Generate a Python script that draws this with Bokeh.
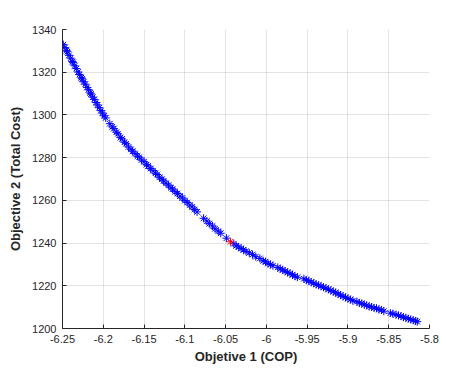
from bokeh.plotting import figure
from bokeh.models import Range1d, FixedTicker, CustomJSTickFormatter
from bokeh.embed import file_html
from bokeh.resources import INLINE

# Pareto front points (Objective 1 = COP, Objective 2 = Total Cost)
cop = [
    -6.249, -6.247, -6.245, -6.244, -6.242, -6.240, -6.238, -6.237, -6.235, -6.233,
    -6.231, -6.229, -6.227, -6.226, -6.224, -6.222, -6.220, -6.218, -6.216, -6.215,
    -6.213, -6.211, -6.209, -6.207, -6.205, -6.203, -6.201, -6.199, -6.197,
    -6.192, -6.189, -6.187, -6.184, -6.182, -6.179, -6.177, -6.174, -6.172, -6.169,
    -6.166, -6.164, -6.161, -6.158, -6.156, -6.153, -6.150, -6.147, -6.145, -6.142,
    -6.139, -6.136, -6.134, -6.131, -6.128, -6.126, -6.123, -6.120, -6.117, -6.115,
    -6.112, -6.109, -6.106, -6.103, -6.100, -6.097, -6.094, -6.091, -6.088, -6.085,
    -6.077, -6.073, -6.070, -6.066, -6.063, -6.059, -6.056, -6.049,
    -6.040, -6.037, -6.034, -6.031, -6.028, -6.025, -6.021, -6.017, -6.013, -6.008,
    -6.004, -6.001, -5.998, -5.995, -5.992,
    -5.986, -5.983, -5.980, -5.977, -5.974, -5.971, -5.968, -5.965, -5.962,
    -5.954, -5.951, -5.948, -5.945, -5.942, -5.939, -5.936, -5.933, -5.930, -5.927,
    -5.924, -5.921, -5.918, -5.915, -5.912, -5.909, -5.906, -5.903, -5.900, -5.897,
    -5.894,
    -5.889, -5.886, -5.883, -5.880, -5.877, -5.874, -5.871, -5.868, -5.865, -5.862,
    -5.859, -5.856,
    -5.848, -5.845, -5.841, -5.838, -5.835, -5.832, -5.829, -5.826, -5.823, -5.820,
    -5.817, -5.815,
]
cost = [
    1332.9, 1331.6, 1330.1, 1329.6, 1327.9, 1326.6, 1325.0, 1324.6, 1323.0, 1321.7,
    1320.1, 1318.9, 1317.4, 1316.9, 1315.5, 1314.4, 1312.9, 1311.8, 1310.3, 1309.8,
    1308.3, 1307.3, 1305.8, 1304.7, 1303.4, 1302.0, 1300.9, 1299.6, 1298.6,
    1295.9, 1294.4, 1293.6, 1291.9, 1291.2, 1289.4, 1288.8, 1287.2, 1286.5, 1285.0,
    1283.9, 1283.0, 1281.9, 1280.7, 1280.2, 1278.9, 1278.1, 1276.7, 1276.1, 1274.9,
    1273.9, 1272.7, 1272.1, 1270.8, 1269.9, 1269.1, 1268.0, 1267.1, 1265.9, 1265.3,
    1264.1, 1263.2, 1262.0, 1261.1, 1259.9, 1259.0, 1257.8, 1256.9, 1255.7, 1254.6,
    1251.6, 1250.3, 1249.1, 1248.0, 1246.7, 1245.6, 1244.6, 1242.3,
    1239.7, 1238.7, 1238.2, 1237.4, 1236.9, 1236.1, 1235.4, 1234.6, 1233.6, 1232.8,
    1231.7, 1231.3, 1230.4, 1230.0, 1229.4,
    1228.6, 1227.9, 1227.5, 1226.8, 1226.3, 1225.7, 1225.2, 1224.5, 1224.0,
    1223.3, 1222.6, 1222.4, 1221.6, 1221.3, 1220.6, 1220.3, 1219.8, 1219.3, 1218.9,
    1218.3, 1217.9, 1217.2, 1216.9, 1216.1, 1215.7, 1215.0, 1214.6, 1214.0, 1213.6,
    1213.0,
    1212.6, 1211.9, 1211.8, 1211.1, 1210.9, 1210.3, 1210.1, 1209.6, 1209.5, 1208.9,
    1208.7, 1208.1,
    1207.2, 1206.9, 1206.5, 1206.1, 1205.8, 1205.3, 1205.0, 1204.6, 1204.2, 1203.9,
    1203.5, 1203.2,
]
# Selected (highlighted) solution
sel_cop = [-6.044]
sel_cost = [1240.6]

x_ticks = [-6.25, -6.2, -6.15, -6.1, -6.05, -6.0, -5.95, -5.9, -5.85, -5.8]
y_ticks = [1200, 1220, 1240, 1260, 1280, 1300, 1320, 1340]

FONT = "Liberation Sans"
DARK = "#262626"

p = figure(width=466, height=366, output_backend="svg", toolbar_location=None,
           x_range=Range1d(-6.25, -5.8), y_range=Range1d(1200, 1340),
           min_border_left=62, min_border_right=37, min_border_top=29,
           min_border_bottom=38)
p.outline_line_color = None
p.background_fill_color = "white"

p.scatter(cop, cost, marker="asterisk", size=8, line_color="#0000ff", line_width=1.0)
p.scatter(sel_cop, sel_cost, marker="asterisk", size=8, line_color="#ff0000", line_width=1.0)

p.xaxis.ticker = FixedTicker(ticks=x_ticks)
p.yaxis.ticker = FixedTicker(ticks=y_ticks)
p.xaxis.formatter = CustomJSTickFormatter(code="return String(Math.round(tick*100)/100);")

for ax in (p.xaxis[0], p.yaxis[0]):
    ax.major_tick_in = 4
    ax.major_tick_out = 0
    ax.minor_tick_in = 0
    ax.minor_tick_out = 0
    ax.axis_line_color = DARK
    ax.major_tick_line_color = DARK
    ax.major_label_text_font = FONT
    ax.major_label_text_font_size = "11px"
    ax.major_label_text_color = DARK
    ax.axis_label_text_font = FONT
    ax.axis_label_text_font_size = "13px"
    ax.axis_label_text_font_style = "bold"
    ax.axis_label_text_color = DARK

p.xaxis.axis_label = "Objetive 1 (COP)"
p.yaxis.axis_label = "Objective 2 (Total Cost)"
p.xaxis.major_label_standoff = 6
p.xaxis.axis_label_standoff = 3
p.yaxis.major_label_standoff = 6
p.yaxis.axis_label_standoff = 6

p.grid.grid_line_color = DARK
p.grid.grid_line_alpha = 0.13

open("out.html", "w").write(file_html(p, INLINE))
